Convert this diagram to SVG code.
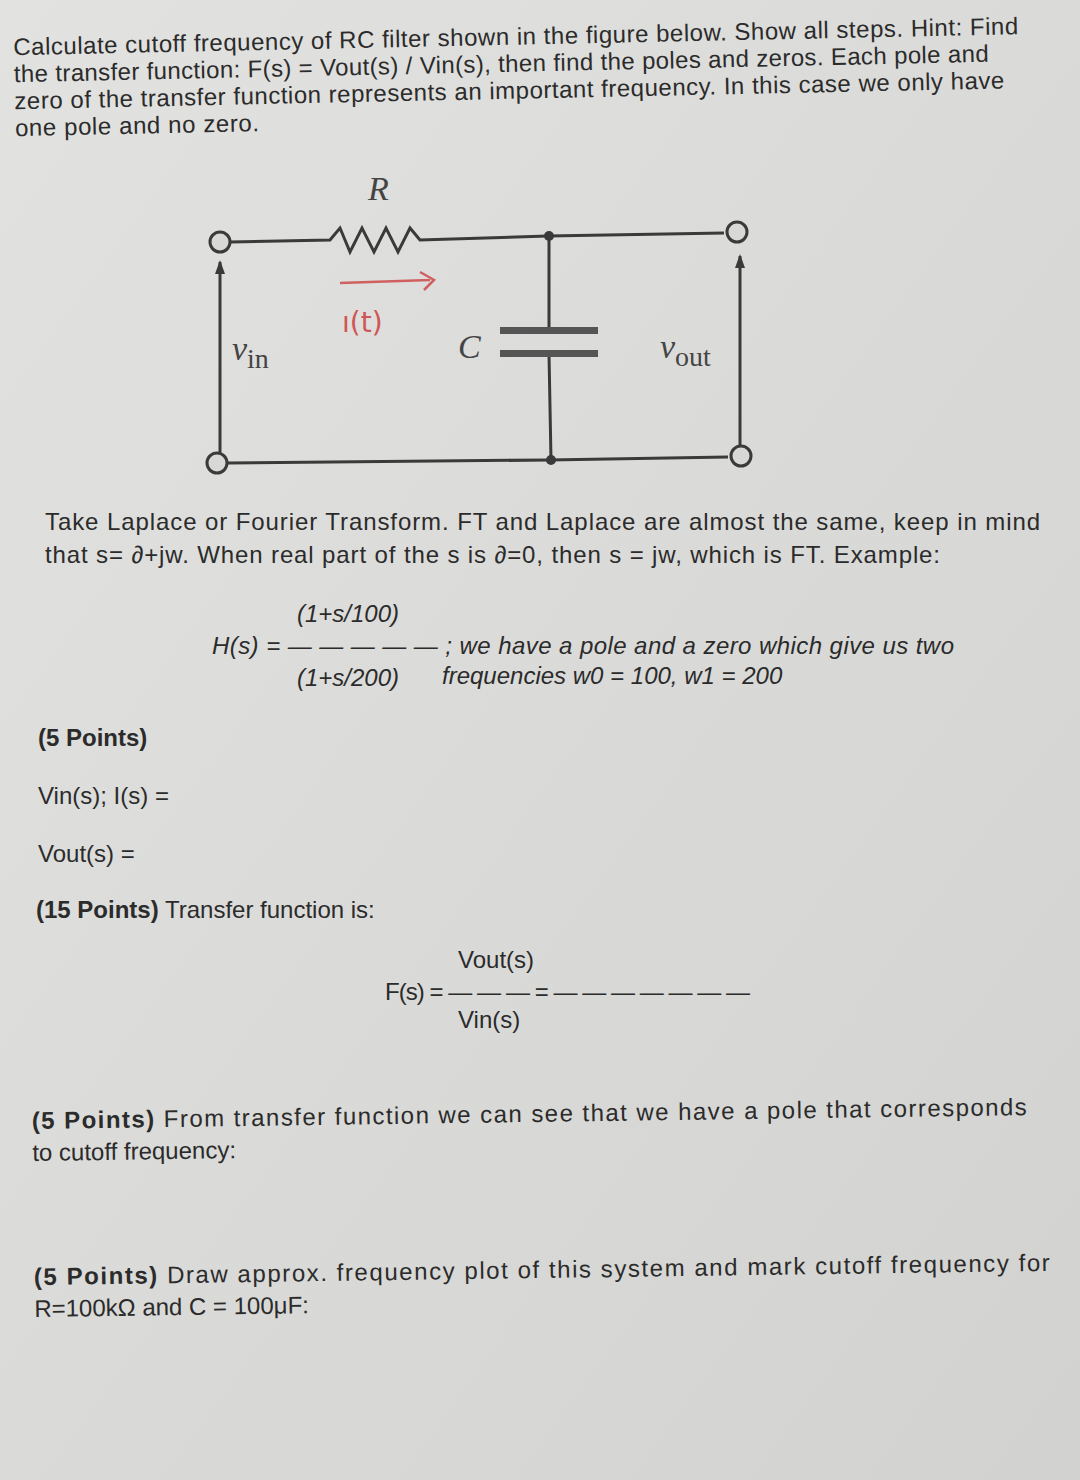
<svg xmlns="http://www.w3.org/2000/svg" width="1080" height="1480" viewBox="0 0 1080 1480">
<style>
.t{font-family:"Liberation Sans",Arial,sans-serif;font-size:24px;fill:#2b2b2b}
.i{font-style:italic}
.b{font-weight:bold}
.s{font-family:"Liberation Serif","Times New Roman",serif;fill:#444}
.w{stroke:#3a3a3a;stroke-width:3;fill:none}
.term{stroke:#3a3a3a;stroke-width:3;fill:#d8d8d6}
</style>
<defs>
<linearGradient id="bg" x1="0" y1="0" x2="1" y2="1">
<stop offset="0" stop-color="#e2e2e0"/><stop offset="1" stop-color="#d2d2d0"/></linearGradient>
<marker id="ah" markerWidth="14" markerHeight="10" refX="12" refY="5" orient="auto" markerUnits="userSpaceOnUse" viewBox="0 0 14 10"><path d="M0,0 L14,5 L0,10 Z" fill="#3a3a3a"/></marker>
</defs>
<rect width="1080" height="1480" fill="url(#bg)"/>
<g id="header" transform="rotate(-1.2 500 75)">
<text class="t" x="14" y="45" textLength="1005">Calculate cutoff frequency of RC filter shown in the figure below. Show all steps. Hint: Find</text>
<text class="t" x="14" y="72" textLength="975">the transfer function: F(s) = Vout(s) / Vin(s), then find the poles and zeros. Each pole and</text>
<text class="t" x="14" y="99" textLength="990">zero of the transfer function represents an important frequency. In this case we only have</text>
<text class="t" x="14" y="126" textLength="244">one pole and no zero.</text>
</g>
<g id="connectors">
<path class="w" d="M230,242 L330,240 L340,228 L350,252 L362,228 L374,252 L386,228 L398,252 L410,228 L420,240 L548,236 L724,233"/>
<path class="w" d="M228,463 L548,460 L728,457"/>
<path class="w" d="M549,236 L549,332 M549,354 L551,460"/>
<path class="w" d="M220,452 L220,262" marker-end="url(#ah)"/>
<path class="w" d="M740,448 L740,256" marker-end="url(#ah)"/>
<path d="M340,283 L430,280 M420,272 L434,280 L424,290" stroke="#d06060" stroke-width="2.5" fill="none"/>
</g>
<g id="capacitor">
<rect x="500" y="327" width="98" height="7" fill="#555"/>
<rect x="500" y="350" width="98" height="7" fill="#555"/>
<text class="s i" x="458" y="358" font-size="34">C</text>
</g>
<g id="resistor-label"><text class="s i" x="368" y="200" font-size="34">R</text></g>
<g id="current"><text x="342" y="332" font-family="DejaVu Sans,sans-serif" font-size="28" fill="#d05555">ı(t)</text></g>
<g id="terminals">
<circle class="term" cx="220" cy="242" r="10"/><circle class="term" cx="737" cy="232" r="10"/>
<circle class="term" cx="217" cy="463" r="10"/><circle class="term" cx="741" cy="456" r="10"/>
<circle cx="549" cy="236" r="5" fill="#3a3a3a"/><circle cx="551" cy="460" r="5" fill="#3a3a3a"/>
</g>
<g id="vin"><text class="s i" x="232" y="360" font-size="34">v<tspan font-style="normal" font-size="28" dy="8">in</tspan></text></g>
<g id="vout"><text class="s i" x="660" y="358" font-size="34">v<tspan font-style="normal" font-size="28" dy="8">out</tspan></text></g>
<g id="body">
<text class="t" x="45" y="530" textLength="995">Take Laplace or Fourier Transform.  FT and Laplace are almost the same, keep in mind</text>
<text class="t" x="45" y="563" textLength="895">that s= ∂+jw. When real part of the s is ∂=0, then s = jw, which is FT. Example:</text>
<text class="t i" x="297" y="622">(1+s/100)</text>
<text class="t i" x="212" y="654" textLength="742">H(s) = — — — — — ; we have a pole and a zero which give us two</text>
<text class="t i" x="297" y="686">(1+s/200)</text>
<text class="t i" x="442" y="684">frequencies w0 = 100, w1 = 200</text>
</g>
<g id="q1">
<text class="t b" x="38" y="746">(5 Points)</text>
<text class="t" x="38" y="804">Vin(s);  I(s) =</text>
<text class="t" x="38" y="862">Vout(s) =</text>
<text class="t" x="36" y="918"><tspan class="b">(15 Points)</tspan> Transfer function is:</text>
</g>
<g id="fs">
<text class="t" x="458" y="968">Vout(s)</text>
<text class="t" x="385" y="1000" textLength="365">F(s) = — —  — = — — — — — — —</text>
<text class="t" x="458" y="1028">Vin(s)</text>
</g>
<g id="q3" transform="rotate(-0.8 530 1130)">
<text class="t" x="32" y="1122" textLength="995"><tspan class="b">(5 Points)</tspan> From transfer function we can see that we have a pole that corresponds</text>
<text class="t" x="32" y="1154">to cutoff frequency:</text>
</g>
<g id="q4" transform="rotate(-0.8 540 1285)">
<text class="t" x="34" y="1278" textLength="1016"><tspan class="b">(5 Points)</tspan> Draw approx. frequency plot of this system and mark cutoff frequency for</text>
<text class="t" x="34" y="1310">R=100kΩ and C = 100μF:</text>
</g>
</svg>
